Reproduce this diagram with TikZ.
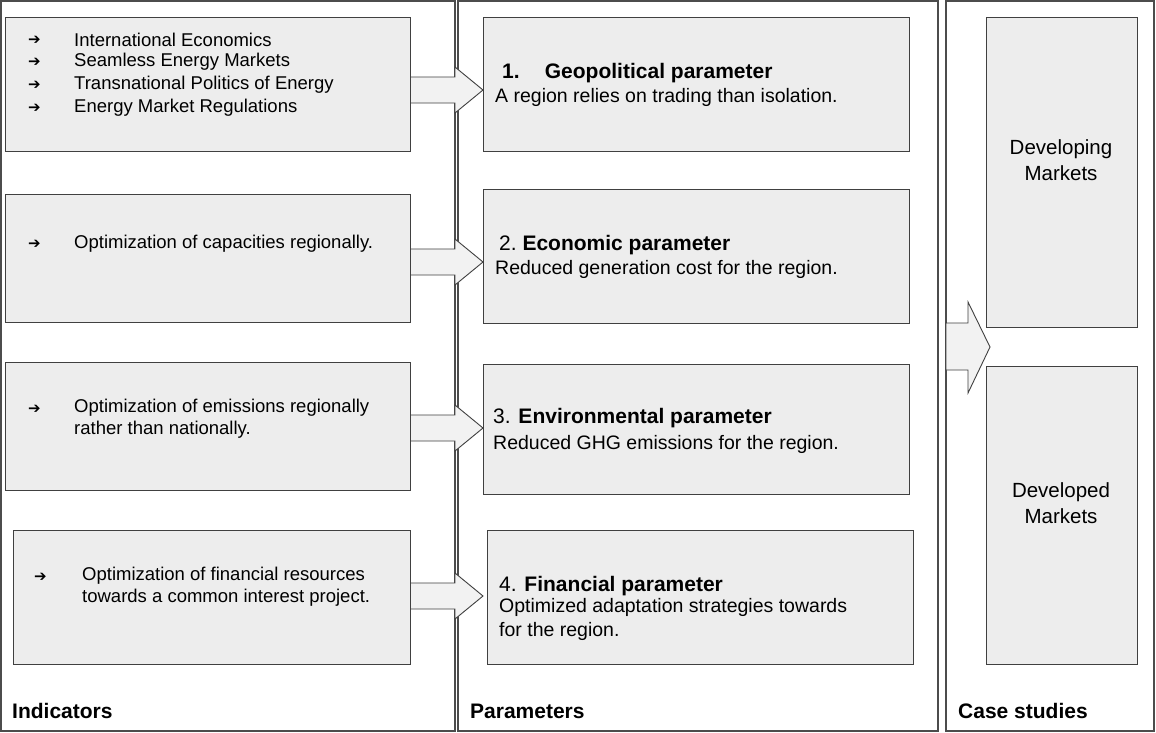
\documentclass[tikz,border=0pt]{standalone}
\usepackage{fontspec}
\setmainfont{Liberation Sans}
\newfontfamily\symf{DejaVu Sans}
\begin{document}
\begin{tikzpicture}[x=1pt,y=-1pt,
 panel/.style={draw=black!70,line width=1.2pt},
 box/.style={draw=black!75,fill=black!7,line width=1pt},
 barrow/.style={draw=black!75,fill=black!5,line width=0.9pt,line join=miter},
 txt/.style={font=\fontsize{18.5}{22}\selectfont,anchor=west,align=left,inner sep=0},
 dsc/.style={font=\fontsize{19.5}{24}\selectfont,anchor=west,align=left,inner sep=0},
 ttl/.style={font=\fontsize{21}{24}\selectfont\bfseries,anchor=west,inner sep=0}]
\useasboundingbox (0,0) rectangle (1156,732);
\fill[white] (0,0) rectangle (1156,732);
% panels
\draw[panel] (1,1) rectangle (455,731);
\draw[panel] (458,1) rectangle (938,731);
\draw[panel] (946,1) rectangle (1154,731);
\node[ttl] (pi) at (12,711) {Indicators};
\node[ttl] (pp) at (470,711) {Parameters};
\node[ttl] (pc) at (958,711) {Case studies};
% arrows left->middle
\foreach \y in {90,262,428,596}{
 \draw[barrow] (410,\y-13) -- (455,\y-13) -- (455,\y-23) -- (483,\y) -- (455,\y+23) -- (455,\y+13) -- (410,\y+13) -- cycle;}
% big arrow
\draw[barrow] (946,323) -- (968,323) -- (968,302) -- (990,347) -- (968,393) -- (968,370) -- (946,370) -- cycle;
% left boxes
\node[box,minimum width=405,minimum height=134,anchor=north west] (l1) at (5,17) {};
\node[box,minimum width=405,minimum height=128,anchor=north west] (l2) at (5,194) {};
\node[box,minimum width=405,minimum height=128,anchor=north west] (l3) at (5,362) {};
\node[box,minimum width=397,minimum height=134,anchor=north west] (l4) at (13,530) {};
\node[txt,font=\symf\fontsize{15}{18}\selectfont] (a1) at (28,40) {➔};
\node[txt,font=\symf\fontsize{15}{18}\selectfont] (a1b) at (28,62) {➔};
\node[txt,font=\symf\fontsize{15}{18}\selectfont] (a1c) at (28,85) {➔};
\node[txt,font=\symf\fontsize{15}{18}\selectfont] (a1d) at (28,108) {➔};
\node[txt] (t1) at (74,40) {International Economics};
\node[txt] (t1b) at (74,62) {Seamless Energy Markets};
\node[txt] (t1c) at (74,85) {Transnational Politics of Energy};
\node[txt] (t1d) at (74,108) {Energy Market Regulations};
\node[txt,font=\symf\fontsize{15}{18}\selectfont] (a2) at (28,244) {➔};
\node[txt] (t2) at (74,244) {Optimization of capacities regionally.};
\node[txt,font=\symf\fontsize{15}{18}\selectfont] (a3) at (28,409) {➔};
\node[txt,anchor=north west] (t3) at (74,399) {Optimization of emissions regionally\\rather than nationally.};
\node[txt,font=\symf\fontsize{15}{18}\selectfont] (a4) at (34,577) {➔};
\node[txt,anchor=north west] (t4) at (82,567) {Optimization of financial resources\\towards a common interest project.};
% middle boxes
\node[box,minimum width=426,minimum height=134,anchor=north west] (m1) at (483,17) {};
\node[box,minimum width=426,minimum height=134,anchor=north west] (m2) at (483,189) {};
\node[box,minimum width=426,minimum height=130,anchor=north west] (m3) at (483,364) {};
\node[box,minimum width=426,minimum height=134,anchor=north west] (m4) at (487,530) {};
\node[ttl] (h1) at (502,73) {1.\hspace{1.2em}Geopolitical parameter};
\node[dsc] (d1) at (495,97) {A region relies on trading than isolation.};
\node[ttl] (h2) at (499,245) {\mdseries 2.\ \bfseries Economic parameter};
\node[dsc] (d2) at (495,269) {Reduced generation cost for the region.};
\node[ttl] (h3) at (493,418) {\mdseries 3. \bfseries Environmental parameter};
\node[dsc] (d3) at (493,444) {Reduced GHG emissions for the region.};
\node[ttl] (h4) at (499,586) {\mdseries 4. \bfseries Financial parameter};
\node[dsc,anchor=north west] (d4) at (499,598) {Optimized adaptation strategies towards\\for the region.};
% right boxes
\node[box,minimum width=151,minimum height=310,anchor=north west] (r1) at (986,17) {};
\node[box,minimum width=151,minimum height=298,anchor=north west] (r2) at (986,366) {};
\node[font=\fontsize{20.5}{26}\selectfont,align=center] (rt1) at (1061,160) {Developing\\Markets};
\node[font=\fontsize{20.5}{26}\selectfont,align=center] (rt2) at (1061,503) {Developed\\Markets};
\end{tikzpicture}
\end{document}
